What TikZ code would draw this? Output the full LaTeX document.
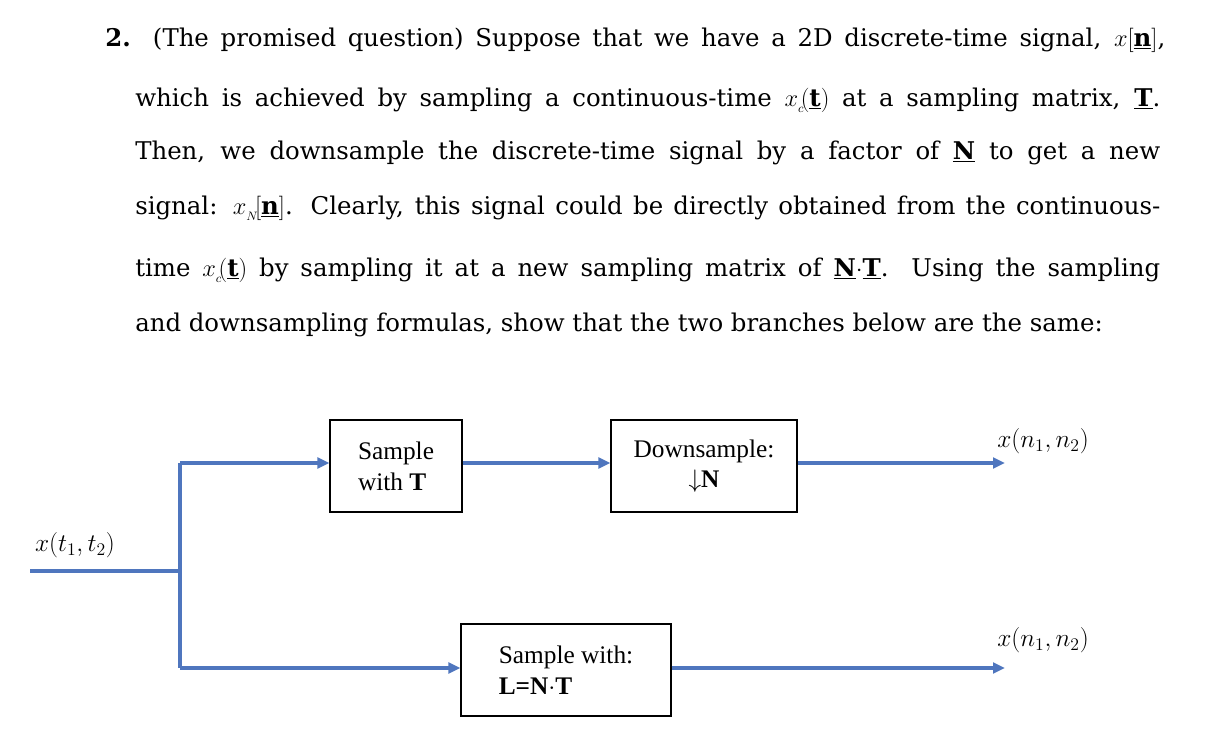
\RequirePackage{fix-cm}
\documentclass[tikz,border=0pt]{standalone}
\usepackage{fontspec}
\setmainfont{DejaVu Serif}
\newfontfamily\timesf{Liberation Serif}
\usetikzlibrary{arrows.meta}
\definecolor{arr}{RGB}{79,118,190}
\newcommand{\ul}[1]{\underline{\mathbf{#1}}}
\begin{document}
\begin{tikzpicture}[x=0.75pt,y=-0.75pt,
  para/.style={anchor=west,inner sep=0pt,font=\fontsize{18.3}{22}\selectfont},
  blk/.style={draw,line width=0.8pt,minimum width=#1,minimum height=69pt,align=left,font=\fontsize{19}{23}\selectfont\timesf},
  lab/.style={font=\fontsize{19}{22}\selectfont},
  flow/.style={draw=arr,line width=3pt},
  arrw/.style={flow,-{Triangle[length=9pt,width=8pt]}}]
\useasboundingbox (0,0) rectangle (1210,754);
\node[para] (l1) at (105,40) {\makebox[1060\dimexpr0.75pt][s]{\textbf{2.} (The promised question) Suppose that we have a 2D discrete-time signal, $x\Bigl[\ul{n}\Bigr]$,}};
\node[para] (l2) at (135,100) {\makebox[1025\dimexpr0.75pt][s]{which is achieved by sampling a continuous-time $x_{_c}\!\Bigl(\ul{t}\Bigr)$ at a sampling matrix, $\ul{T}$.}};
\node[para] (l3) at (135,153) {\makebox[1025\dimexpr0.75pt][s]{Then, we downsample the discrete-time signal by a factor of $\ul{N}$ to get a new}};
\node[para] (l4) at (135,208) {\makebox[1025\dimexpr0.75pt][s]{signal: $x_{_N}\!\Bigl[\ul{n}\Bigr]$. Clearly, this signal could be directly obtained from the continuous-}};
\node[para] (l5) at (135,270) {\makebox[1025\dimexpr0.75pt][s]{time $x_{_c}\!\Bigl(\ul{t}\Bigr)$ by sampling it at a new sampling matrix of $\ul{N}{\cdot}\ul{T}$. Using the sampling}};
\node[para] (l6) at (135,325) {and downsampling formulas, show that the two branches below are the same:};

\node[blk=99pt] (s1) at (396,466) {Sample\\with \textbf{T}};
\node[blk=139.5pt,align=center] (d1) at (704,466) {Downsample:\\$\downarrow$\textbf{N}};
\node[blk=157.5pt] (s2) at (566,670) {Sample with:\\\textbf{L=N$\cdot$T}};

\coordinate (in) at (30,571);
\coordinate (j) at (180,571);
\coordinate (jt) at (180,463);
\coordinate (jb) at (180,668);
\coordinate (o1) at (1005,463);
\coordinate (o2) at (1005,668);
\draw[flow] (in) -- (j);
\draw[flow] (jt) -- (jb);
\draw[arrw] (jt) -- (s1.west|-jt);
\draw[arrw] (s1.east|-jt) -- (d1.west|-jt);
\draw[arrw] (d1.east|-jt) -- (o1);
\draw[arrw] (jb) -- (s2.west|-jb);
\draw[arrw] (s2.east|-jb) -- (o2);
\node[lab] (xin) at (75,545) {$x(t_1,t_2)$};
\node[lab] (xo1) at (1043,441) {$x(n_1,n_2)$};
\node[lab] (xo2) at (1043,640) {$x(n_1,n_2)$};
\end{tikzpicture}
\end{document}
